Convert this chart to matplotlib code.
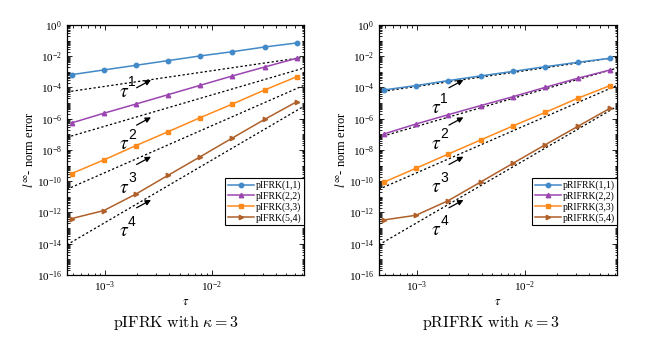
import matplotlib
matplotlib.use("Agg")
import matplotlib.pyplot as plt
from matplotlib.ticker import FixedLocator, NullFormatter
import numpy as np

plt.rcParams['font.family'] = ['Liberation Serif', 'DejaVu Serif']
plt.rcParams['mathtext.fontset'] = 'stix'

# time steps tau = 2^-11 ... 2^-4
tau = [2.0**-k for k in range(11, 3, -1)]

# log10 of the l-inf errors
left_err = {
    "pIFRK(1,1)": [-3.18, -2.88, -2.58, -2.28, -1.98, -1.71, -1.41, -1.15],
    "pIFRK(2,2)": [-6.27, -5.65, -5.06, -4.46, -3.86, -3.26, -2.69, -2.13],
    "pIFRK(3,3)": [-9.51, -8.64, -7.72, -6.83, -5.93, -5.06, -4.16, -3.31],
    "pIFRK(5,4)": [-12.39, -11.88, -10.82, -9.62, -8.43, -7.23, -6.04, -4.91],
}
right_err = {
    "pRIFRK(1,1)": [-4.16, -3.88, -3.56, -3.26, -2.97, -2.67, -2.39, -2.13],
    "pRIFRK(2,2)": [-6.98, -6.34, -5.74, -5.16, -4.59, -3.99, -3.41, -2.88],
    "pRIFRK(3,3)": [-10.07, -9.17, -8.26, -7.36, -6.46, -5.59, -4.69, -3.88],
    "pRIFRK(5,4)": [-12.48, -12.18, -11.24, -10.05, -8.85, -7.66, -6.49, -5.33],
}

# reference slopes C*tau^p (log10 C)
ref_order = [1, 2, 3, 4]
ref_logc = [-0.93, -0.48, -0.45, -0.65]

# slope labels: centre of "tau^p" (log10 y) and arrow tip (log10 y)
label_x = 1.39e-3
tail_x = 1.98e-3
tip_x = 2.7e-3
left_label_y = [-3.99, -7.36, -10.13, -12.9]
right_label_y = [-5.06, -7.32, -10.09, -12.86]
tip_y = [-3.52, -5.91, -8.43, -11.2]

colors = ["#4189c8", "#9b45b0", "#ff8a1c", "#b0602a"]
markers = ["o", "^", "s", ">"]

xlim = (4.4e-4, 7.3e-2)


def draw_panel(ax, errs, label_y, title, x_center):
    xs = np.array(xlim)
    for p, c in zip(ref_order, ref_logc):
        ax.plot(xs, 10**c * xs**p, color="k", lw=0.9, ls=(0, (1.8, 1.8)))
    for (name, vals), col, mk in zip(errs.items(), colors, markers):
        ax.plot(tau, 10**np.array(vals), color=col, marker=mk, ms=3.2,
                lw=1.1, label=name)
    for p, ly, ty in zip(ref_order, label_y, tip_y):
        ax.annotate(r"$\tau$", xy=(label_x, 10**ly), xytext=(3, -3.5),
                    textcoords="offset points", fontsize=14,
                    ha="center", va="center")
        ax.annotate(str(p), xy=(label_x, 10**ly), xytext=(8.5, 3.5),
                    textcoords="offset points", fontsize=10,
                    family="Liberation Sans", ha="center", va="center")
        ax.annotate("", xy=(tip_x, 10**ty), xytext=(tail_x, 10**(ty - 0.5)),
                    arrowprops=dict(arrowstyle="-|>", color="k", lw=0.9,
                                    mutation_scale=8, shrinkA=0, shrinkB=0))
    ax.set_xscale("log")
    ax.set_yscale("log")
    ax.set_xlim(*xlim)
    ax.set_ylim(1e-16, 1)
    ax.yaxis.set_major_locator(FixedLocator([10.0**e for e in range(-16, 1, 2)]))
    ax.yaxis.set_minor_locator(FixedLocator(
        [k * 10.0**e for e in range(-16, 0) for k in range(1, 10)
         if not (k == 1 and e % 2 == 0)]))
    ax.yaxis.set_minor_formatter(NullFormatter())
    ax.xaxis.set_major_locator(FixedLocator([1e-3, 1e-2]))
    ax.xaxis.set_minor_locator(FixedLocator(
        [k * 10.0**e for e in range(-4, -1) for k in range(2, 10)]))
    ax.xaxis.set_minor_formatter(NullFormatter())
    ax.tick_params(which="both", direction="in", top=True, right=True,
                   labelsize=8, width=0.6)
    ax.tick_params(which="major", length=3.5)
    ax.tick_params(which="minor", length=1.8)
    for s in ax.spines.values():
        s.set_linewidth(0.9)
    ax.set_xlabel(r"$\tau$", fontsize=9, labelpad=1)
    ax.set_ylabel(r"$l^{\infty}$- norm error", fontsize=9)
    ax.yaxis.set_label_coords(-0.13, 0.5)
    leg = ax.legend(loc="lower right", bbox_to_anchor=(1.0, 0.2), fontsize=7,
                    handlelength=2.7, labelspacing=0.12, borderpad=0.25,
                    handletextpad=0.2, borderaxespad=0.0, fancybox=False,
                    framealpha=1, edgecolor="k")
    leg.get_frame().set_linewidth(0.8)
    fig.text(x_center, 0.055, title, fontsize=11.5, ha="center", va="center",
             math_fontfamily="cm")


fig = plt.figure(figsize=(6.61, 3.42), dpi=100)
ax1 = fig.add_axes([0.101, 0.196, 0.359, 0.731])
ax2 = fig.add_axes([0.573, 0.196, 0.361, 0.731])

draw_panel(ax1, left_err, left_label_y, r"$\mathrm{pIFRK\ with}\ \kappa = 3$", 0.267)
draw_panel(ax2, right_err, right_label_y, r"$\mathrm{pRIFRK\ with}\ \kappa = 3$", 0.743)

fig.savefig("out.png", dpi=100)
